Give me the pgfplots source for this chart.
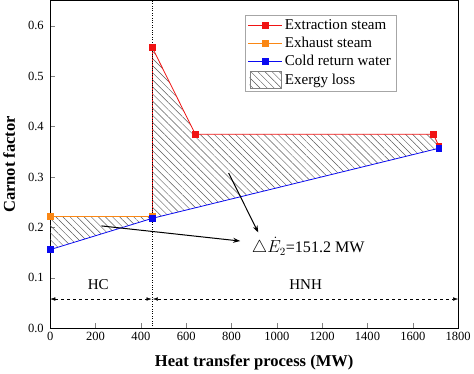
\documentclass[border=0pt]{standalone}
\usepackage{pgfplots}
\pgfplotsset{compat=1.18}
\usepackage{fontspec}
\setmainfont{Liberation Serif}
\usetikzlibrary{patterns.meta,arrows.meta}
\definecolor{cred}{RGB}{240,20,20}
\definecolor{corange}{RGB}{250,135,20}
\definecolor{cblue}{RGB}{10,10,240}
\begin{document}
\begin{tikzpicture}
\begin{axis}[
  scale only axis, width=407pt, height=327pt,
  xmin=0, xmax=1800, ymin=0, ymax=0.65,
  xtick={0,200,...,1800}, ytick={0,0.1,...,0.6},
  tick align=inside, xtick pos=bottom, ytick pos=left,
  major tick length=5pt,
  yticklabel style={xshift=-3pt, /pgf/number format/.cd,fixed,fixed zerofill,precision=1},
  xticklabel style={/pgf/number format/.cd,set thousands separator={}},
  /pgf/number format/assume math mode=true,
  ticklabel style={font=\fontsize{12.5}{12.5}\selectfont},
  xlabel={\textbf{Heat transfer process (MW)}},
  ylabel={\textbf{Carnot factor}},
  label style={font=\fontsize{16.5}{16.5}\selectfont},
  xlabel style={yshift=-8pt},
  ylabel style={yshift=6pt},
  axis line style={line width=1.1pt},
  legend style={at={(0.848,0.957)}, anchor=north east, font=\fontsize{15}{15}\selectfont, draw=gray!70, row sep=2pt, inner sep=3pt},
  legend cell align=left,
  legend image code/.code={\draw[mark repeat=2,mark phase=2,#1] plot coordinates {(0cm,0cm) (0.6cm,0cm) (1.2cm,0cm)};},
]
% hatched exergy loss region
\addplot[draw=none, pattern={Lines[angle=-45,distance=5pt,line width=0.45pt]}, pattern color=black!65, forget plot]
 coordinates {(0,0.222) (450,0.222) (450,0.557) (640,0.385) (1690,0.385) (1715,0.362) (1715,0.357) (450,0.218) (0,0.156)} -- cycle;
% red vertical
\addplot[cred, line width=0.8pt, forget plot] coordinates {(450,0.222) (450,0.557)};
\addplot[cred, line width=0.8pt, mark=square*, mark size=2.8pt, mark options={solid}]
 coordinates {(450,0.557) (640,0.385) (1690,0.385) (1715,0.362)};
\addlegendentry{Extraction steam}
\addplot[corange, line width=0.8pt, mark=square*, mark size=2.8pt]
 coordinates {(0,0.222) (450,0.222)};
\addlegendentry{Exhaust steam}
\addplot[cblue, line width=0.8pt, mark=square*, mark size=2.8pt]
 coordinates {(0,0.156) (450,0.218) (1715,0.357)};
\addlegendentry{Cold return water}
\addlegendimage{legend image code/.code={\draw[draw=gray, pattern={Lines[angle=-45,distance=5pt,line width=0.45pt]}, pattern color=black!65] (0.05cm,-0.28cm) rectangle (1.15cm,0.3cm);}}
\addlegendentry{Exergy loss}
% vertical dotted line
\draw[dotted, thin] (axis cs:450,0) -- (axis cs:450,0.65);
% dashed arrows
\draw[dashed, {Latex[length=5pt,width=3.5pt]}-{Latex[length=5pt,width=3.5pt]}] (axis cs:0,0.058) -- (axis cs:447,0.058);
\draw[dashed, {Latex[length=5pt,width=3.5pt]}-{Latex[length=5pt,width=3.5pt]}] (axis cs:453,0.058) -- (axis cs:1800,0.058);
\node[font=\fontsize{15}{15}\selectfont] at (axis cs:212,0.087) {HC};
\node[font=\fontsize{15}{15}\selectfont] at (axis cs:1127,0.087) {HNH};
% annotation
\draw[line width=1pt, -{Stealth[length=7pt,width=5pt]}] (axis cs:787,0.308) -- (axis cs:918,0.19);
\draw[line width=1pt, -{Stealth[length=7pt,width=5pt]}] (axis cs:226,0.203) -- (axis cs:838,0.173);
\node[anchor=west, font=\fontsize{16}{16}\selectfont, inner sep=1pt] at (axis cs:885,0.162) {$\triangle\dot{E}_2$=151.2 MW};
\end{axis}
\end{tikzpicture}
\end{document}
